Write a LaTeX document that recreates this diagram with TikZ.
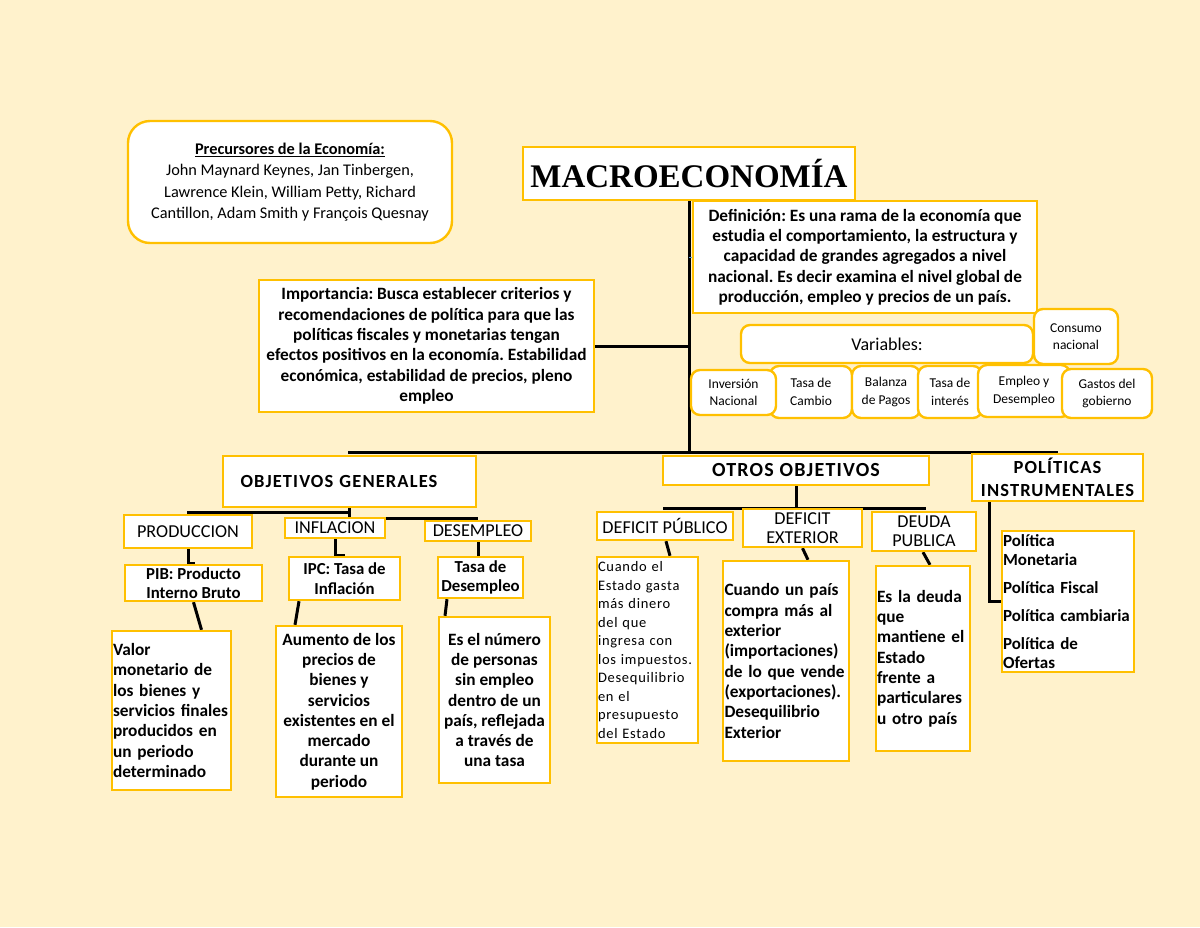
\documentclass[tikz,border=0pt]{standalone}
\usepackage{fontspec}
\setmainfont{Carlito}
\newfontfamily\titlefont{Liberation Serif}
\newfontfamily\spacedfont[LetterSpace=6]{Carlito}
\newfontfamily\loosefont[LetterSpace=5]{Carlito}
\usetikzlibrary{positioning,backgrounds}
\definecolor{papercolor}{RGB}{255,242,204}
\definecolor{boxcolor}{RGB}{255,192,0}
\definecolor{tickcolor}{RGB}{91,155,213}
\pgfdeclarelayer{paper}
\pgfsetlayers{paper,background,main}

\begin{document}
\frenchspacing
\begin{tikzpicture}[
    x=1pt, y=-1pt,
    box/.style={rectangle, draw=boxcolor, line width=2.4pt, fill=white, inner sep=0pt, align=center},
    rbox/.style={box, rounded corners=9pt},
    txt/.style={font=\bfseries\fontsize{17.3}{20.3}\selectfont},
    subhead/.style={font=\fontsize{18.2}{19}\selectfont},
    head/.style={font=\spacedfont\bfseries\fontsize{18.5}{23}\selectfont},
    vartxt/.style={font=\fontsize{13.5}{17.5}\selectfont},
    conn/.style={line width=3pt, black},
    tick/.style={line width=1pt, tickcolor}
]

% ===== FONDO =====
\begin{pgfonlayer}{paper}
    \path[use as bounding box, fill=papercolor] (0,0) rectangle (1200,927);
\end{pgfonlayer}

% ===== CABECERA =====
\node[box, rounded corners=22pt, minimum width=324, minimum height=122, font=\fontsize{16.3}{21.3}\selectfont] (precursores) at (290,182) {\underline{\textbf{Precursores de la Economía:}}\\John Maynard Keynes, Jan Tinbergen,\\Lawrence Klein, William Petty, Richard\\Cantillon, Adam Smith y François Quesnay};
\node[box, minimum width=332, minimum height=53, font=\titlefont\bfseries\fontsize{33}{33}\selectfont] (macro) at (689,173.5) {MACROECONOMÍA};
\node[box, txt, minimum width=344, minimum height=112] (definicion) at (865,257) {Definición: Es una rama de la economía que\\estudia el comportamiento, la estructura y\\capacidad de grandes agregados a nivel\\nacional. Es decir examina el nivel global de\\producción, empleo y precios de un país.};
\node[box, txt, minimum width=335, minimum height=132] (importancia) at (426.5,346) {Importancia: Busca establecer criterios y\\recomendaciones de política para que las\\políticas fiscales y monetarias tengan\\efectos positivos en la economía. Estabilidad\\económica, estabilidad de precios, pleno\\empleo};

% ===== VARIABLES =====
\node[rbox, font=\fontsize{18}{20}\selectfont, minimum width=292, minimum height=38] (variables) at (887,344) {Variables:};
\node[rbox, vartxt, minimum width=84, minimum height=55] (consumo) at (1076,336.5) {Consumo\\nacional};
\node[rbox, vartxt, minimum width=82, minimum height=52] (tcambio) at (811,392) {Tasa de\\Cambio};
\node[rbox, vartxt, minimum width=68, minimum height=52] (balanza) at (886,392) {Balanza\\de Pagos};
\node[rbox, vartxt, minimum width=64, minimum height=52] (tinteres) at (950,392) {Tasa de\\interés};
\node[rbox, vartxt, minimum width=92, minimum height=52] (empleo) at (1024,391) {Empleo y\\Desempleo};
\node[rbox, vartxt, minimum width=90, minimum height=49] (gastos) at (1107,393.5) {Gastos del\\gobierno};
\node[rbox, vartxt, minimum width=85, minimum height=45] (inversion) at (733.5,392.5) {Inversión\\Nacional};

% ===== RAMAS PRINCIPALES =====
\node[box, head, minimum width=253, minimum height=51, text width=218, align=left] (objgen) at (349.5,481.5) {OBJETIVOS GENERALES};
\node[box, head, font=\spacedfont\bfseries\fontsize{20}{23}\selectfont, minimum width=266, minimum height=29] (otros) at (796,470.5) {OTROS OBJETIVOS};
\node[box, head, minimum width=171, minimum height=47] (politicas) at (1057.5,477.5) {POLÍTICAS\\INSTRUMENTALES};

% ===== OBJETIVOS GENERALES =====
\node[box, subhead, minimum width=128, minimum height=33] (produccion) at (188,531.5) {PRODUCCION};
\node[box, subhead, minimum width=100, minimum height=20] (inflacion) at (335,528) {INFLACION};
\node[box, subhead, minimum width=106, minimum height=20] (desempleo) at (478,531) {DESEMPLEO};
\node[box, txt, minimum width=137, minimum height=36, font=\bfseries\fontsize{16.8}{19}\selectfont] (pib) at (193.5,583) {PIB: Producto\\Interno Bruto};
\node[box, txt, minimum width=111, minimum height=43, font=\bfseries\fontsize{16.8}{20}\selectfont] (ipc) at (344.5,578.5) {IPC: Tasa de\\Inflación};
\node[box, txt, minimum width=85, minimum height=41, font=\bfseries\fontsize{16.8}{19}\selectfont] (tasades) at (480.5,577.5) {Tasa de\\Desempleo};
\node[box, txt, minimum width=119, minimum height=159, text width=117, align=left] (valor) at (171.5,710.5) {Valor\\monetario de\\los bienes y\\servicios finales\\producidos en\\un periodo\\determinado};
\node[box, txt, minimum width=126, minimum height=171] (aumento) at (339,711.5) {Aumento de los\\precios de\\bienes y\\servicios\\existentes en el\\mercado\\durante un\\periodo};
\node[box, txt, minimum width=111, minimum height=166] (numero) at (494.5,700) {Es el número\\de personas\\sin empleo\\dentro de un\\país, reflejada\\a través de\\una tasa};

% ===== OTROS OBJETIVOS =====
\node[box, subhead, minimum width=136, minimum height=28] (defpub) at (665,526) {DEFICIT PÚBLICO};
\node[box, subhead, minimum width=119, minimum height=38] (defext) at (802.5,528) {DEFICIT\\EXTERIOR};
\node[box, subhead, minimum width=104, minimum height=39] (deuda) at (924,531.5) {DEUDA\\PUBLICA};
\node[box, minimum width=101, minimum height=186, text width=99, align=left, font=\loosefont\fontsize{14.5}{18.5}\selectfont] (estado) at (647.5,650) {Cuando el\\Estado gasta\\más dinero\\del que\\ingresa con\\los impuestos.\\Desequilibrio\\en el\\presupuesto\\del Estado};
\node[box, txt, minimum width=126, minimum height=200, text width=123, align=left] (pais) at (786,661) {Cuando un país\\compra más al\\exterior\\(importaciones)\\de lo que vende\\(exportaciones).\\Desequilibrio\\Exterior};
\node[box, txt, minimum width=94, minimum height=185, text width=92, align=left] (deudadesc) at (923,658.5) {Es la deuda\\que\\mantiene el\\Estado\\frente a\\particulares\\u otro país};

% ===== POLITICAS =====
\node[box, txt, minimum width=132, minimum height=141, text width=130, align=left, font=\bfseries\fontsize{17}{19}\selectfont] (polist) at (1068,601.5) {Política\\Monetaria\\[9pt]Política Fiscal\\[9pt]Política cambiaria\\[9pt]Política de\\Ofertas};

% ===== CONECTORES =====
\coordinate (hub) at (689,452);
\coordinate (barL) at (348,452);
\coordinate (barR) at (1058,452);
\coordinate (ogL) at (187,512);
\coordinate (ogR) at (478,518);
\coordinate (ooL) at (663,508);
\coordinate (ooR) at (926,508);

\begin{pgfonlayer}{background}
    \draw[conn] (macro.south) -- (hub);
    \draw[conn] (importancia.east) -- (importancia.east -| hub);
    \draw[tick] (definicion.west -| hub) -- (definicion.west);
    \draw[conn] (barL) -- (barR);

    \draw[conn] (ogL) -- (ogL -| objgen.south) -- (objgen.south);
    \draw[conn] (objgen.south) -- (objgen.south |- ogR) -- (ogR);
    \draw[conn] (produccion.south) -- ++(0,14) -- ++(7,0);
    \draw[conn] (inflacion.south) -- ++(0,16) -- ++(10,0);
    \draw[conn] (desempleo.south) -- (desempleo.south |- tasades.north);
    \draw[conn] (pib.south) -- ([xshift=30pt]valor.north);
    \draw[conn] ([xshift=-45.5pt]ipc.south) -- ([xshift=-44pt]aumento.north);
    \draw[conn] ([xshift=-33.5pt]tasades.south) -- ([xshift=-49.5pt]numero.north);

    \draw[conn] (otros.south) -- (otros.south |- ooL);
    \draw[conn] (ooL) -- (ooR);
    \draw[conn] ([xshift=1pt]defpub.south) -- ([xshift=22.5pt]estado.north);
    \draw[conn] (defext.south) -- ([xshift=22pt]pais.north);
    \draw[conn] ([xshift=-1pt]deuda.south) -- ([xshift=7pt]deudadesc.north);

    \draw[conn] ([xshift=-68.5pt]politicas.south) |- (polist.west);
\end{pgfonlayer}

\end{tikzpicture}
\end{document}
